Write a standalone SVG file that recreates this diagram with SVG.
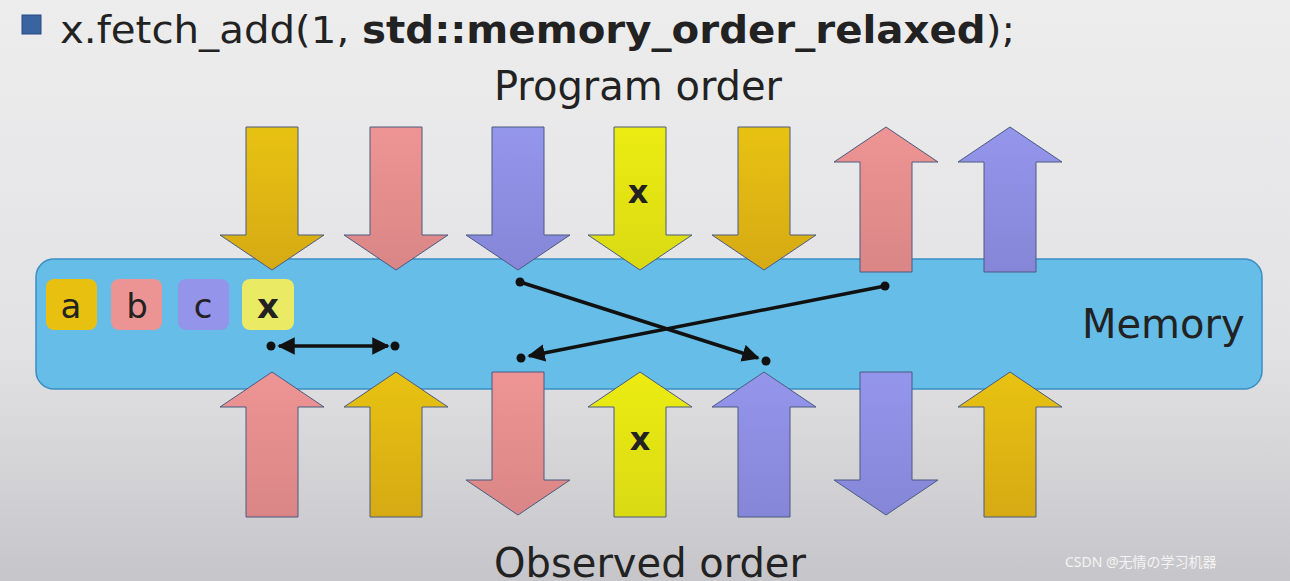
<svg xmlns="http://www.w3.org/2000/svg" width="1290" height="581" viewBox="0 0 1290 581">
<defs>
<linearGradient id="bg" x1="0" y1="0" x2="0" y2="1"><stop offset="0" stop-color="#eeedee"/><stop offset="0.6" stop-color="#e2e1e3"/><stop offset="1" stop-color="#c6c5c9"/></linearGradient>
<linearGradient id="gO" x1="0" y1="0" x2="0" y2="1"><stop offset="0" stop-color="#e8c212"/><stop offset="1" stop-color="#d6aa14"/></linearGradient>
<linearGradient id="gP" x1="0" y1="0" x2="0" y2="1"><stop offset="0" stop-color="#ee9494"/><stop offset="1" stop-color="#da8686"/></linearGradient>
<linearGradient id="gB" x1="0" y1="0" x2="0" y2="1"><stop offset="0" stop-color="#9496ec"/><stop offset="1" stop-color="#8686d8"/></linearGradient>
<linearGradient id="gY" x1="0" y1="0" x2="0" y2="1"><stop offset="0" stop-color="#ecec12"/><stop offset="1" stop-color="#dada14"/></linearGradient>
<path id="down" d="M-26,0 H26 V108 H52 L0,143 L-52,108 H-26 Z"/>
<path id="up" d="M0,0 L52,35 H26 V145 H-26 V35 H-52 Z"/>
<marker id="ah" viewBox="0 0 10 10" refX="9" refY="5" markerWidth="5" markerHeight="5" orient="auto-start-reverse"><path d="M0,0 L10,5 L0,10 Z" fill="#111"/></marker>
<style>
.t{font-family:"DejaVu Sans","Liberation Sans",sans-serif;fill:#222}
.ar use{stroke:#4a5a80;stroke-width:1}
.dot{fill:#111}
.ln{stroke:#111;stroke-width:3.5;fill:none}
</style>
</defs>
<rect width="1290" height="581" fill="url(#bg)"/>
<rect x="22" y="15" width="19" height="19" fill="#3a64a0" stroke="#284a80"/>
<text class="t" x="60" y="43" font-size="37" textLength="955" lengthAdjust="spacingAndGlyphs">x.fetch_add(1, <tspan font-weight="bold">std::memory_order_relaxed</tspan>);</text>
<text class="t" x="638" y="100" font-size="40" text-anchor="middle">Program order</text>
<text class="t" x="650" y="577" font-size="40" text-anchor="middle">Observed order</text>
<g id="memory">
<rect x="36" y="259" width="1226" height="130" rx="18" fill="#65bde8" stroke="#3b8ec4" stroke-width="1.5"/>
<text class="t" x="1082" y="338" font-size="40">Memory</text>
</g>
<g id="legend">
<rect x="46" y="279" width="51" height="51" rx="8" fill="#e8c010"/><text class="t" x="71" y="318" font-size="34" text-anchor="middle">a</text>
<rect x="111" y="279" width="51" height="51" rx="8" fill="#ec9494"/><text class="t" x="137" y="318" font-size="34" text-anchor="middle">b</text>
<rect x="178" y="279" width="51" height="51" rx="8" fill="#9494ea"/><text class="t" x="203" y="318" font-size="34" text-anchor="middle">c</text>
<rect x="242" y="279" width="52" height="51" rx="8" fill="#eaea64"/><text class="t" x="268" y="318" font-size="34" font-weight="bold" text-anchor="middle">x</text>
</g>
<g id="program-arrows" class="ar">
<use href="#down" x="272" y="127" fill="url(#gO)"/>
<use href="#down" x="396" y="127" fill="url(#gP)"/>
<use href="#down" x="518" y="127" fill="url(#gB)"/>
<use href="#down" x="640" y="127" fill="url(#gY)"/>
<use href="#down" x="764" y="127" fill="url(#gO)"/>
<use href="#up" x="886" y="127" fill="url(#gP)"/>
<use href="#up" x="1010" y="127" fill="url(#gB)"/>
</g>
<text class="t" x="638" y="203" font-size="32" font-weight="bold" text-anchor="middle">x</text>
<g id="observed-arrows" class="ar">
<use href="#up" x="272" y="372" fill="url(#gP)"/>
<use href="#up" x="396" y="372" fill="url(#gO)"/>
<use href="#down" x="518" y="372" fill="url(#gP)"/>
<use href="#up" x="640" y="372" fill="url(#gY)"/>
<use href="#up" x="764" y="372" fill="url(#gB)"/>
<use href="#down" x="886" y="372" fill="url(#gB)"/>
<use href="#up" x="1010" y="372" fill="url(#gO)"/>
</g>
<text class="t" x="640" y="450" font-size="32" font-weight="bold" text-anchor="middle">x</text>
<g id="connectors">
<line class="ln" x1="279" y1="346" x2="388" y2="346" marker-start="url(#ah)" marker-end="url(#ah)"/>
<line class="ln" x1="520" y1="282" x2="758" y2="358" marker-end="url(#ah)"/>
<line class="ln" x1="885" y1="286" x2="529" y2="356" marker-end="url(#ah)"/>
<circle class="dot" cx="271" cy="346" r="4.5"/><circle class="dot" cx="395" cy="346" r="4.5"/>
<circle class="dot" cx="520" cy="282" r="4.5"/><circle class="dot" cx="766" cy="361" r="4.5"/>
<circle class="dot" cx="885" cy="286" r="4.5"/><circle class="dot" cx="521" cy="358" r="4.5"/>
</g>
<text x="1065" y="567" font-size="14" fill="#f4f4f4" font-family="'Noto Sans','Noto Sans CJK SC',sans-serif">CSDN @无情の学习机器</text>
</svg>
